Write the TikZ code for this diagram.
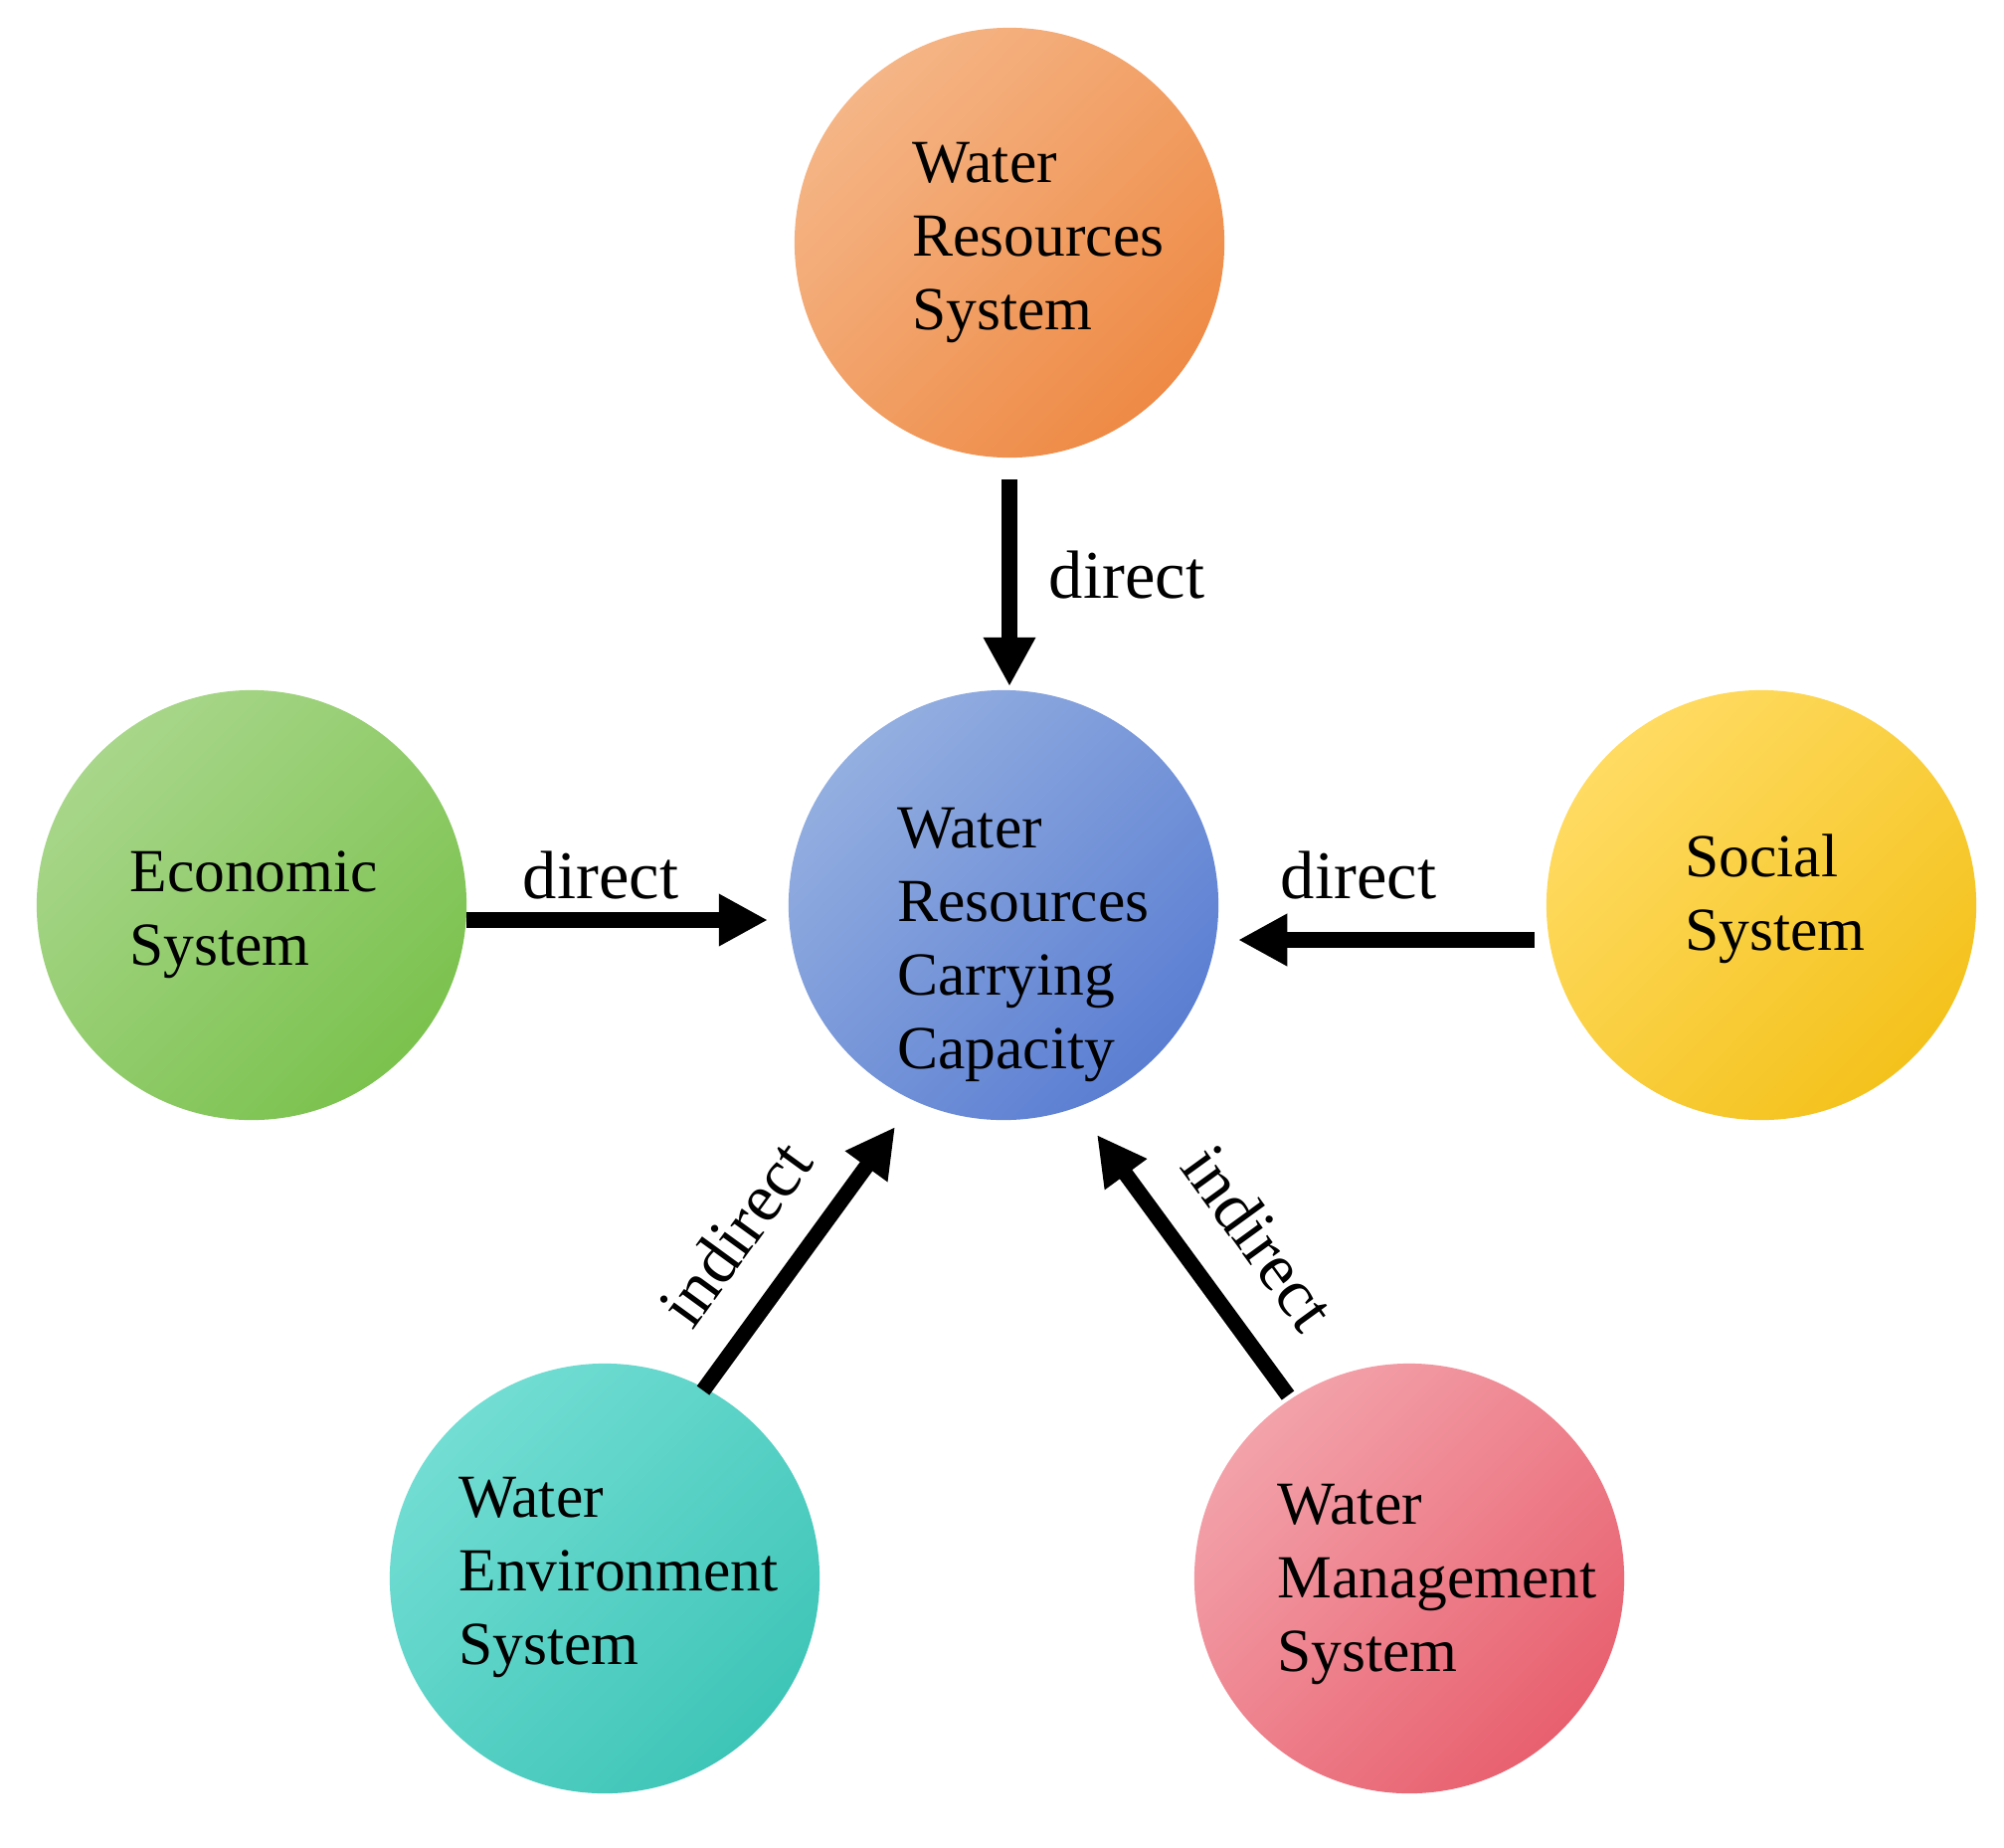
\documentclass[tikz,border=0pt]{standalone}
\usepackage{fontspec}
\setmainfont{Liberation Serif}
\usetikzlibrary{arrows.meta}
\begin{document}
\begin{tikzpicture}[x=0.01cm,y=-0.01cm,
  sys/.style={circle,inner sep=0pt,minimum size=4.32cm},
  sh/.style={shading angle=45},
  lbl/.style={font=\fontsize{17.5}{21}\selectfont,align=left},
  arr/.style={line width=4.4pt,-{Triangle[length=14pt,width=14pt]}},
  rel/.style={font=\fontsize{19.5}{23}\selectfont}]
\useasboundingbox (0,0) rectangle (2015,1857);
\definecolor{o1}{HTML}{F5B586}\definecolor{o2}{HTML}{EE8A45}
\definecolor{b1}{HTML}{93AEE0}\definecolor{b2}{HTML}{5B7ED2}
\definecolor{g1}{HTML}{A8D68A}\definecolor{g2}{HTML}{7BC24E}
\definecolor{y1}{HTML}{FFDB62}\definecolor{y2}{HTML}{F4C21C}
\definecolor{t1}{HTML}{72DDD3}\definecolor{t2}{HTML}{3EC5B7}
\definecolor{p1}{HTML}{F3A2AA}\definecolor{p2}{HTML}{E8606F}
\node[sys,left color=o1,right color=o2,sh] (top) at (1015,244) {};
\node[sys,left color=b1,right color=b2,sh] (ctr) at (1009,910) {};
\node[sys,left color=g1,right color=g2,sh] (eco) at (253,910) {};
\node[sys,left color=y1,right color=y2,sh] (soc) at (1771,910) {};
\node[sys,left color=t1,right color=t2,sh] (env) at (608,1587) {};
\node[sys,left color=p1,right color=p2,sh] (mgt) at (1417,1587) {};
\node[lbl,anchor=west] (ttop) at (905,244) {Water\\Resources\\System};
\node[lbl,anchor=west] (tctr) at (890,950) {Water\\Resources\\Carrying\\Capacity};
\node[lbl,anchor=west] (teco) at (118,920) {Economic\\System};
\node[lbl,anchor=west] (tsoc) at (1682,904) {Social\\System};
\node[lbl,anchor=west] (tenv) at (449,1586) {Water\\Environment\\System};
\node[lbl,anchor=west] (tmgt) at (1272,1593) {Water\\Management\\System};
\coordinate (a1) at (1015,482); \coordinate (a2) at (1015,690);
\coordinate (b1) at (469,925); \coordinate (b2) at (772,925);
\coordinate (c1) at (1543,945); \coordinate (c2) at (1245,945);
\coordinate (d1) at (707,1398); \coordinate (d2) at (900,1133);
\coordinate (e1) at (1295,1403); \coordinate (e2) at (1103,1141);
\draw[arr] (a1) -- (a2);
\draw[arr] (b1) -- (b2);
\draw[arr] (c1) -- (c2);
\draw[arr] (d1) -- (d2);
\draw[arr] (e1) -- (e2);
\node[rel] (l1) at (1133,578) {direct};
\node[rel] (l2) at (604,880) {direct};
\node[rel] (l3) at (1366,880) {direct};
\node[rel,rotate=54] (l4) at (739,1240) {indirect};
\node[rel,rotate=-54] (l5) at (1266,1244) {indirect};
\end{tikzpicture}
\end{document}
